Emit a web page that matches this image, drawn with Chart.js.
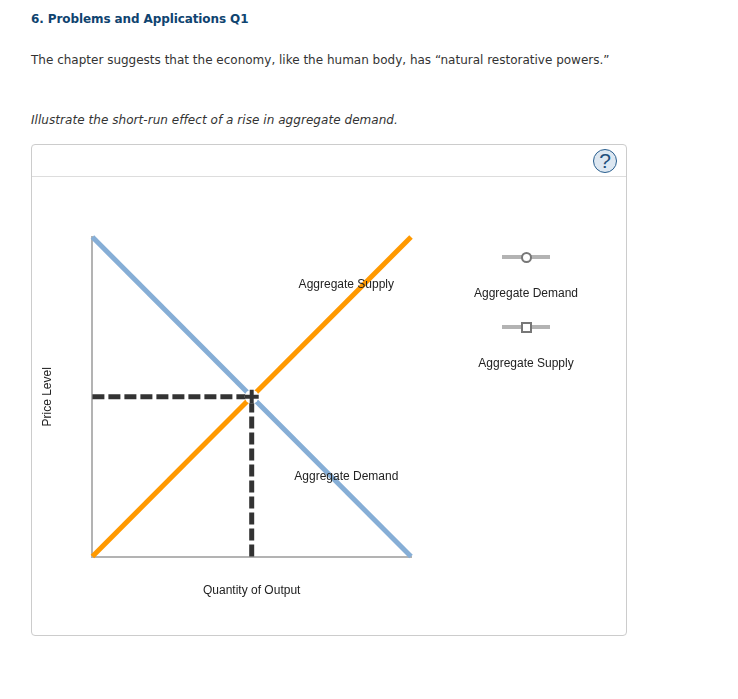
<!DOCTYPE html>
<html><head><meta charset="utf-8">
<script src="https://cdn.jsdelivr.net/npm/chart.js@4"></script>
<style>
html,body{margin:0;padding:0;background:#fff;width:738px;height:699px;overflow:hidden}
.t{position:absolute;white-space:nowrap;font-family:"DejaVu Sans",Verdana,sans-serif;font-size:12px;color:#333;line-height:16px}
#card{position:absolute;left:31px;top:144px;width:594px;height:490px;border:1px solid #ccc;border-radius:4px}
#sep{position:absolute;left:0;right:0;top:31px;border-top:1px solid #ddd}
#help{position:absolute;left:561px;top:4px;width:22px;height:22px;border:1.5px solid #2a5f8f;border-radius:50%;background:#dde7f1;color:#1f4f7c;font:21px/22px "Liberation Sans",Arial,sans-serif;text-align:center}
canvas{position:absolute;left:0;top:0}
.k{position:absolute;left:502px;width:48px;height:4px;background:#b3b3b3}
.m{position:absolute;left:18.5px;top:-3.5px;width:7px;height:7px;background:#fff;border:2px solid #777}
.l{position:absolute;left:446px;width:160px;text-align:center;font:12px/14px "Liberation Sans",Arial,sans-serif;color:#222}
</style></head><body>
<div class="t" style="left:31px;top:11px;letter-spacing:-0.1px;font-weight:bold;color:#0f4470">6. Problems and Applications Q1</div>
<div class="t" style="left:31px;top:52px">The chapter suggests that the economy, like the human body, has “natural restorative powers.”</div>
<div class="t" style="left:31px;top:112px;letter-spacing:0.05px;font-style:italic">Illustrate the short-run effect of a rise in aggregate demand.</div>
<div id="card"><div id="sep"></div><div id="help">?</div></div>
<canvas id="c" width="738" height="699"></canvas>
<div class="k" style="top:255px"><div class="m" style="border-radius:50%"></div></div>
<div class="l" style="top:286px">Aggregate Demand</div>
<div class="k" style="top:325px"><div class="m"></div></div>
<div class="l" style="top:356px">Aggregate Supply</div>
<script>
const demandX = [0, 100];
const demandY = [100, 0];
const supplyX = [0, 100];
const supplyY = [0, 100];
const equilibriumX = [50];
const equilibriumY = [50];
const priceGuideX = [0, 50];
const priceGuideY = [50, 50];
const outputGuideX = [50, 50];
const outputGuideY = [0, 50];
const curveLabels = ['Aggregate Supply', 'Aggregate Demand'];
const curveLabelX = [79.7, 79.7];
const curveLabelY = [85.0, 25.1];
const xTitle = 'Quantity of Output';
const yTitle = 'Price Level';
const pts = (xs, ys) => xs.map((x, i) => ({x, y: ys[i]}));
const lineBase = {showLine: true, pointRadius: 0, borderWidth: 5, clip: false, borderCapStyle: 'butt', tension: 0};
const curveLabelPlugin = {
  id: 'curveLabels',
  afterDatasetsDraw(chart) {
    const {ctx, scales} = chart;
    ctx.save();
    ctx.font = '12px "Liberation Sans", Arial, sans-serif';
    ctx.fillStyle = '#222';
    ctx.textAlign = 'center';
    ctx.textBaseline = 'middle';
    curveLabels.forEach((t, i) => ctx.fillText(t, scales.x.getPixelForValue(curveLabelX[i]), scales.y.getPixelForValue(curveLabelY[i])));
    ctx.restore();
  }
};
new Chart(document.getElementById('c'), {
  type: 'scatter',
  data: {datasets: [
    {...lineBase, label: 'Aggregate Demand', data: pts(demandX, demandY), borderColor: '#86aed6', order: 6},
    {...lineBase, label: 'Aggregate Supply', data: pts(supplyX, supplyY), borderColor: '#ff9900', order: 5},
    {...lineBase, label: 'Price guide', data: pts(priceGuideX, priceGuideY), borderColor: '#333', borderDash: [12, 4], order: 4},
    {...lineBase, label: 'Output guide', data: pts(outputGuideX, outputGuideY), borderColor: '#333', borderDash: [12, 4], order: 3},
    {label: 'Halo', data: pts(equilibriumX, equilibriumY), pointStyle: 'circle', pointRadius: 7, pointBackgroundColor: '#fff', pointBorderWidth: 0, clip: false, order: 2},
    {label: 'Equilibrium', data: pts(equilibriumX, equilibriumY), pointStyle: 'cross', pointRadius: 7, pointBorderColor: '#333', pointBorderWidth: 4, clip: false, order: 1}
  ]},
  options: {
    responsive: false, animation: false, events: [],
    layout: {padding: {left: 40, right: 327, top: 237, bottom: 101}},
    plugins: {legend: {display: false}, tooltip: {enabled: false}},
    scales: {
      x: {type: 'linear', min: 0, max: 100,
        grid: {display: false}, ticks: {display: false},
        border: {color: '#b3b3b3', width: 2},
        title: {display: true, text: xTitle, color: '#222', font: {family: '"Liberation Sans", Arial, sans-serif', size: 12}, padding: {top: 19, bottom: 0}}},
      y: {type: 'linear', min: 0, max: 100,
        grid: {display: false}, ticks: {display: false},
        border: {color: '#b3b3b3', width: 2},
        title: {display: true, text: yTitle, color: '#222', font: {family: '"Liberation Sans", Arial, sans-serif', size: 12}, padding: {top: 0, bottom: 30}}}
    }
  },
  plugins: [curveLabelPlugin]
});
</script>
</body></html>
